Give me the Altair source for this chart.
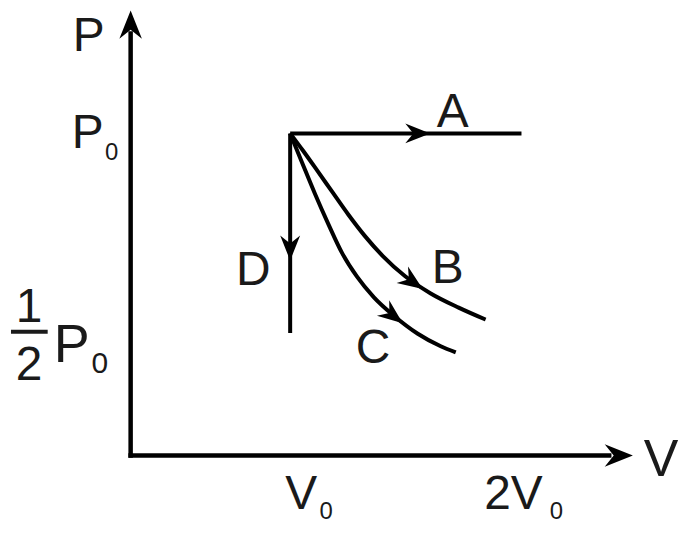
import altair as alt
import pandas as pd

# Process paths, in units of V0 (volume) and P0 (pressure)
b_v = [1.000, 1.081, 1.169, 1.263, 1.363, 1.469, 1.581, 1.719, 1.881, 2.056, 2.225]
b_p = [1.000, 0.946, 0.885, 0.819, 0.749, 0.681, 0.619, 0.557, 0.503, 0.459, 0.422]
c_v = [1.000, 1.075, 1.156, 1.238, 1.325, 1.419, 1.525, 1.650, 1.800, 1.944, 2.038]
c_p = [1.000, 0.909, 0.812, 0.720, 0.629, 0.555, 0.491, 0.434, 0.378, 0.339, 0.320]
a_v = [1.00, 2.45]
a_p = [1.00, 1.00]
d_v = [1.00, 1.00]
d_p = [1.00, 0.38]

# Direction arrows on the paths (A, D, B, C)
arrow_v = [1.80, 1.00, 1.767, 1.644]
arrow_p = [1.00, 0.644, 0.539, 0.434]
arrow_angle = [90, 180, 125, 128]

# Axis arrows (P axis tip, V axis tip)
axis_arrow_v = [0.0, 3.06]
axis_arrow_p = [1.3375, 0.0]
axis_arrow_angle = [0, 90]
axis_end_v = 3.0
axis_end_p = 1.31

# Labels
label_text = ["P", "P", "0", "1", "2", "P", "0", "A", "B", "C", "D", "V", "V", "0", "2V", "0"]
label_v = [-0.2625, -0.269, -0.119, -0.6375, -0.6375, -0.369, -0.194, 2.019, 1.9875, 1.519, 0.769, 3.325, 1.069, 1.225, 2.40, 2.669]
label_p = [1.257, 0.9536, 0.916, 0.415, 0.235, 0.291, 0.257, 1.0186, 0.5356, 0.288, 0.529, -0.065, -0.167, -0.198, -0.167, -0.198]
label_size = [48, 48, 24, 48, 48, 54, 30, 48, 48, 48, 48, 52, 48, 24, 48, 24]

# fraction bar of 1/2
frac_v = [-0.75, -0.52]
frac_p = 0.384

ARROW = "M0,-1L0.8,1L0,0.36L-0.8,1Z"
INK = "#000000"
TXT = "#1a1a1a"

xs = alt.Scale(domain=[-0.75625, 3.45625], nice=False, zero=False)
ys = alt.Scale(domain=[-0.2136, 1.387], nice=False, zero=False)

curves = pd.DataFrame(
    {"v": b_v + c_v,
     "p": b_p + c_p,
     "path": ["B"] * len(b_v) + ["C"] * len(c_v),
     "i": list(range(len(b_v))) + list(range(len(c_v)))}
)
straight = pd.DataFrame({"v": [a_v[0], d_v[0]], "v2": [a_v[1], d_v[1]],
                         "p": [a_p[0], d_p[0]], "p2": [a_p[1], d_p[1]]})
axes = pd.DataFrame({"v": [0.0, 0.0], "v2": [0.0, axis_end_v],
                     "p": [0.0, 0.0], "p2": [axis_end_p, 0.0]})
arrows = pd.DataFrame({"v": arrow_v, "p": arrow_p, "angle": arrow_angle})
axis_arrows = pd.DataFrame({"v": axis_arrow_v, "p": axis_arrow_p, "angle": axis_arrow_angle})
labels = pd.DataFrame({"t": label_text, "v": label_v, "p": label_p, "s": label_size})
frac = pd.DataFrame({"v": [frac_v[0]], "v2": [frac_v[1]], "p": [frac_p]})

X = alt.X("v:Q", scale=xs, axis=None)
Y = alt.Y("p:Q", scale=ys, axis=None)

axis_layer = alt.Chart(axes).mark_rule(color=INK, strokeWidth=4.5, strokeCap="square").encode(
    x=X, x2="v2:Q", y=Y, y2="p2:Q")
axis_arrow_layer = alt.Chart(axis_arrows).mark_point(
    shape=ARROW, filled=True, size=800, color=INK, opacity=1, strokeWidth=0
).encode(x=X, y=Y, angle=alt.Angle("angle:Q", scale=None))

curve_layer = alt.Chart(curves).mark_line(color=INK, strokeWidth=4, interpolate="monotone").encode(
    x=X, y=Y, detail="path:N", order="i:Q")
straight_layer = alt.Chart(straight).mark_rule(color=INK, strokeWidth=4).encode(
    x=X, x2="v2:Q", y=Y, y2="p2:Q")
arrow_layer = alt.Chart(arrows).mark_point(
    shape=ARROW, filled=True, size=625, color=INK, opacity=1, strokeWidth=0
).encode(x=X, y=Y, angle=alt.Angle("angle:Q", scale=None))

label_layer = alt.Chart(labels).mark_text(
    font="Liberation Sans", color=TXT, align="center", baseline="alphabetic"
).encode(x=X, y=Y, text="t:N", size=alt.Size("s:Q", scale=None))
frac_layer = alt.Chart(frac).mark_rule(color=TXT, strokeWidth=4).encode(x=X, x2="v2:Q", y=Y)

chart = alt.layer(
    axis_layer, axis_arrow_layer, straight_layer, curve_layer, arrow_layer, label_layer, frac_layer
).properties(width=674, height=517, padding=0).configure_view(stroke=None)

chart.save("out.html", embed_options={"renderer": "svg", "actions": False})
